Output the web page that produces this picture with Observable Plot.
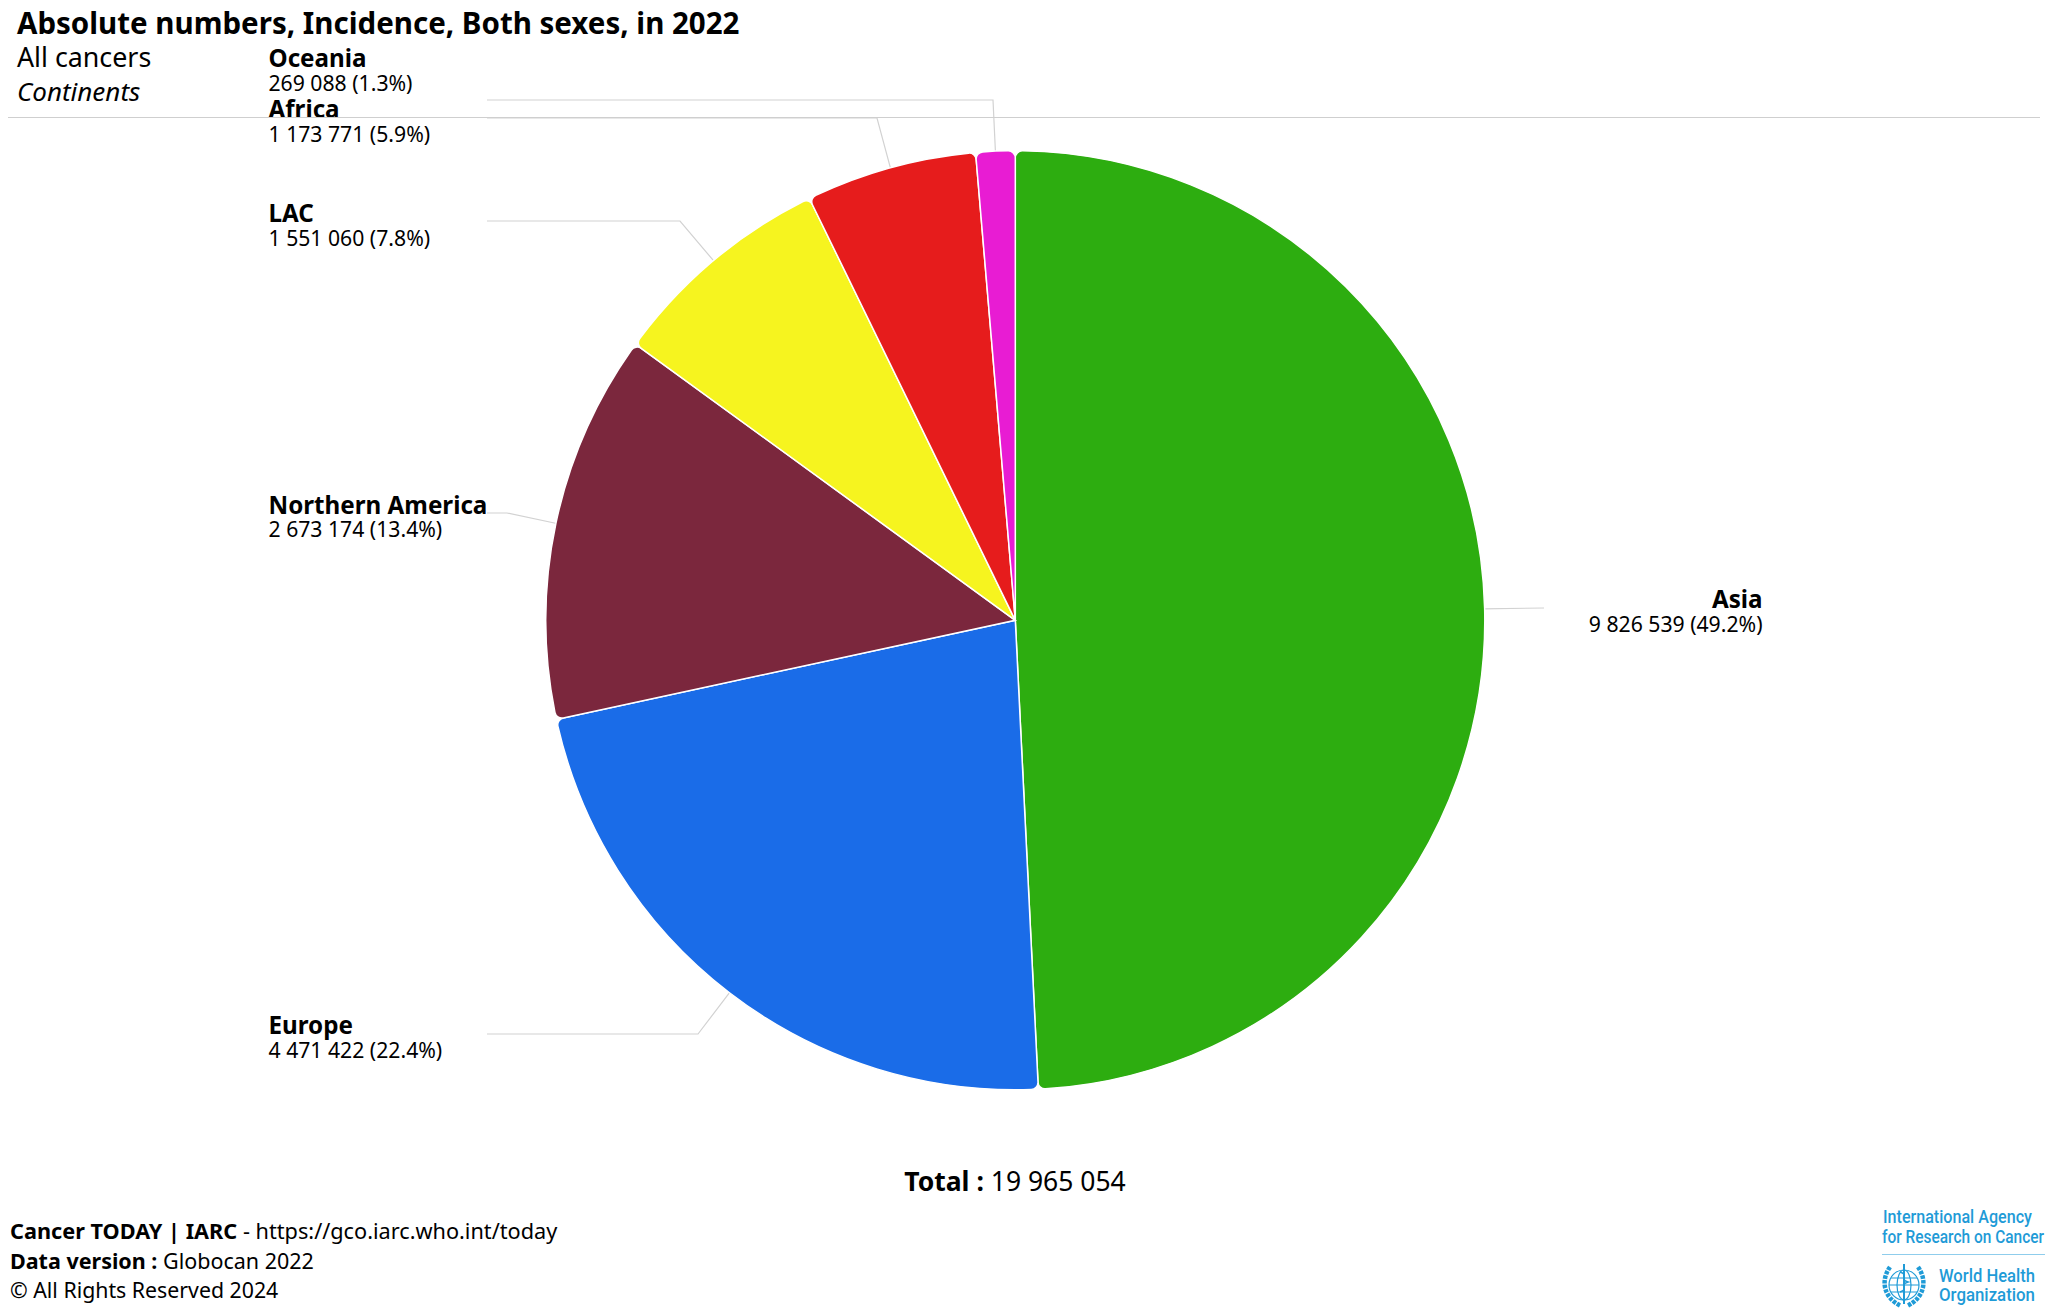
<!DOCTYPE html>
<html>
<head>
<meta charset="utf-8">
<script src="https://cdn.jsdelivr.net/npm/d3@7"></script>
<script src="https://cdn.jsdelivr.net/npm/@observablehq/plot@0.6"></script>
<style>
html,body{margin:0;padding:0;background:#fff}
body{position:relative;width:2048px;height:1309px;overflow:hidden;font-family:"Noto Sans",sans-serif;color:#000}
#chart{position:absolute;left:0;top:0}
.t{position:absolute;white-space:pre;line-height:1}
</style>
</head>
<body>
<div id="chart"></div>
<div class="t" style="left:17px;top:8px;font-size:29.5px;font-weight:700">Absolute numbers, Incidence, Both sexes, in 2022</div>
<div class="t" style="left:17px;top:44px;font-size:26.8px">All cancers</div>
<div class="t" style="left:17px;top:78px;font-size:26px;font-style:italic">Continents</div>
<div style="position:absolute;left:8px;width:2032px;top:117px;height:1px;background:#cfcfcf"></div>
<div class="t" id="total" style="left:0;width:2030px;text-align:center;top:1168px;font-size:26.5px"></div>
<div class="t" style="left:10px;top:1220px;font-size:21.7px"><b>Cancer TODAY | IARC</b> - https://gco.iarc.who.int/today</div>
<div class="t" style="left:10px;top:1250px;font-size:21.5px"><b>Data version :</b> Globocan 2022</div>
<div class="t" style="left:10px;top:1279px;font-size:21.3px">© All Rights Reserved 2024</div>
<svg style="position:absolute;left:1870px;top:1200px" width="178" height="109" viewBox="1870 1200 178 109" font-family="Roboto,'Noto Sans',sans-serif" font-weight="500" fill="#1f9bd7">
  <text transform="translate(1883,1223) scale(.895,1)" font-size="18">International Agency</text>
  <text transform="translate(1882,1243) scale(.86,1)" font-size="18">for Research on Cancer</text>
  <rect x="1882" y="1254" width="163" height="1" fill="#8fcdec"/>
  <g fill="none" stroke="#1f9bd7" stroke-width="1.2">
    <circle cx="1904" cy="1285" r="15"/>
    <ellipse cx="1904" cy="1285" rx="7" ry="15"/>
    <path d="M1889 1285H1919M1891 1278H1917M1891 1292H1917"/>
    <path stroke-width="2" d="M1904 1264V1304"/>
    <path stroke-width="1.6" d="M1900 1272C1910 1275 1898 1279 1908 1282C1898 1285 1910 1289 1900 1292"/>
    <path stroke-width="4.5" stroke-dasharray="3.5 1.2" d="M1890 1267C1880 1281 1884 1298 1901 1306"/>
    <path stroke-width="4.5" stroke-dasharray="3.5 1.2" d="M1918 1267C1928 1281 1924 1298 1907 1306"/>
  </g>
  <text x="1939" y="1282" font-size="17.5" textLength="96" lengthAdjust="spacingAndGlyphs">World Health</text>
  <text x="1939" y="1301" font-size="17.5" textLength="96" lengthAdjust="spacingAndGlyphs">Organization</text>
</svg>
<script>
// Data
const continents = ["Asia", "Europe", "Northern America", "LAC", "Africa", "Oceania"];
const cases = [9826539, 4471422, 2673174, 1551060, 1173771, 269088];
const percents = [49.2, 22.4, 13.4, 7.8, 5.9, 1.3];
const totalCases = 19965054;
const colors = ["#2dad10", "#1a6ce8", "#7b273d", "#f6f41f", "#e61c1c", "#e81cd3"];

// Layout (page pixels)
const cx = 1015.3, cy = 620.3, radius = 469.5;
const leaderElbow = {
  Asia: [[1544, 608]],
  Europe: [[698, 1034], [487, 1034]],
  "Northern America": [[507, 513], [487, 513]],
  LAC: [[680, 221], [487, 221]],
  Africa: [[877, 118], [487, 118]],
  Oceania: [[993, 100], [487, 100]]
};
const labelPos = {
  Asia: {x: 1762, anchor: "end", name: 607, value: 631},
  Europe: {x: 268, anchor: "start", name: 1033, value: 1057},
  "Northern America": {x: 268, anchor: "start", name: 513, value: 536},
  LAC: {x: 268, anchor: "start", name: 221, value: 245},
  Africa: {x: 268, anchor: "start", name: 117, value: 141},
  Oceania: {x: 268, anchor: "start", name: 66, value: 90}
};

const group = v => String(v).replace(/\B(?=(\d{3})+$)/g, " ");
const rows = continents.map((name, i) => ({name, value: cases[i], label: `${group(cases[i])} (${percents[i]}%)`}));
document.getElementById("total").innerHTML = `<b>Total :</b> ${group(totalCases)}`;

// The stacked bar's x scale maps cases to turn angle; the render step bends each bar into a slice.
const arc = d3.arc().innerRadius(0).outerRadius(radius).cornerRadius(7);
const renderSlices = (index, scales, values) => {
  const g = d3.create("svg:g").attr("transform", `translate(${cx},${cy})`);
  for (const i of index) {
    g.append("path")
      .attr("d", arc({startAngle: values.x1[i], endAngle: values.x2[i]}))
      .attr("fill", values.fill[i])
      .attr("stroke", "#fff")
      .attr("stroke-width", 1.5);
  }
  return g.node();
};
const renderLeaders = (index, scales, values) => {
  const g = d3.create("svg:g").attr("fill", "none").attr("stroke", "#d2d2d2").attr("stroke-width", 1.2);
  for (const i of index) {
    const a = (values.x1[i] + values.x2[i]) / 2;
    const rim = [cx + (radius - 2) * Math.sin(a), cy - (radius - 2) * Math.cos(a)];
    g.append("path").attr("d", d3.line()([rim, ...leaderElbow[rows[i].name]]));
  }
  return g.node();
};

const labelMarks = rows.flatMap(r => {
  const p = labelPos[r.name];
  const common = {frameAnchor: "top-left", lineAnchor: "bottom", textAnchor: p.anchor, dx: p.x, fill: "#000", fontFamily: "Noto Sans"};
  return [
    Plot.text([r], {...common, text: d => d.name, dy: p.name, fontSize: 24.2, fontWeight: 700}),
    Plot.text([r], {...common, text: d => d.label, dy: p.value, fontSize: 21.2})
  ];
});

const chart = Plot.plot({
  width: 2048,
  height: 1309,
  margin: 0,
  style: {background: "transparent", overflow: "visible"},
  x: {domain: [0, totalCases], range: [0, 2 * Math.PI], axis: null},
  color: {domain: continents, range: colors},
  marks: [
    Plot.barX(rows, Plot.stackX({x: "value", fill: "name", render: renderLeaders})),
    Plot.barX(rows, Plot.stackX({x: "value", fill: "name", render: renderSlices})),
    ...labelMarks
  ]
});
document.getElementById("chart").append(chart);
</script>
</body>
</html>
